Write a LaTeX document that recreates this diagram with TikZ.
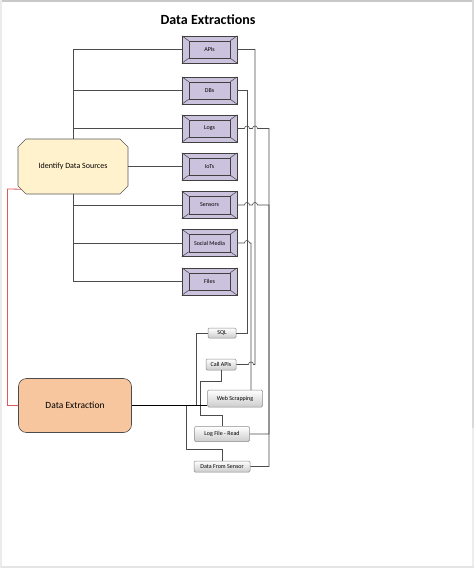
\documentclass[tikz,border=0pt]{standalone}
\usepackage{fontspec}
\setmainfont{Carlito}
\usetikzlibrary{calc}
\definecolor{srcfill}{HTML}{CBC2DD}
\definecolor{idsfill}{HTML}{FFF2CC}
\definecolor{dexfill}{HTML}{F8C69E}
\definecolor{redline}{HTML}{E05A5A}
\definecolor{frame}{HTML}{C8C8C8}
\begin{document}
\begin{tikzpicture}[x=1pt,y=-1pt,
  srcbox/.style={draw=black!75, fill=srcfill, minimum width=55pt, minimum height=27pt, inner sep=0pt, line width=0.5pt, font=\fontsize{6}{7}\selectfont},
  bevel/.style={draw=black!75, line width=0.5pt},
  lowbox/.style={draw=black!45, rounded corners=1.2pt, top color=white, bottom color=black!20, inner sep=0pt, line width=0.5pt, font=\fontsize{6}{7}\selectfont},
  conn/.style={draw=black!70, line width=0.6pt},
  mainline/.style={draw=black, line width=0.9pt},
  jump/.style={radius=2.5}]
\useasboundingbox (0,0) rectangle (474,568);
% frame
\fill[white] (0,0) rectangle (474,568);
\fill[frame] (0,0) rectangle (474,2);
\fill[black!15] (471.5,0) rectangle (474,428);
\fill[black!7] (471.5,428) rectangle (474,568);
\fill[black!10] (0,566) rectangle (474,568);
\fill[black!8] (0,0) rectangle (2,568);
% title
\node[font=\bfseries\fontsize{14}{16}\selectfont] (title) at (208,20) {Data Extractions};
% identify data sources
\draw[draw=black!65, fill=idsfill, line width=0.6pt] (26,139) -- (120,139) -- (128,147) -- (128,186) -- (120,194) -- (26,194) -- (18,186) -- (18,147) -- cycle;
\node[minimum width=110pt, minimum height=55pt, inner sep=0pt, font=\fontsize{8}{9}\selectfont] (ids) at (73,166.5) {Identify Data Sources};
% data extraction
\node[draw=black!70, fill=dexfill, rounded corners=8pt, minimum width=113pt, minimum height=54pt, line width=0.6pt, font=\fontsize{9.5}{11}\selectfont] (dex) at (75,405.5) {Data Extraction};
% source boxes
\foreach \n/\y/\t in {aps/49.5/APIs, dbs/90.5/DBs, logs/128.5/Logs, iots/166.5/IoTs, sens/205/Sensors, soc/243/Social Media, files/281.5/Files}{
  \node[srcbox] (\n) at (209.5,\y) {\t};
  \draw[bevel] ($(\n.north west)+(7,5)$) rectangle ($(\n.south east)+(-7,-5)$);
  \draw[bevel] (\n.north west) -- ++(7,5);
  \draw[bevel] (\n.north east) -- ++(-7,5);
  \draw[bevel] (\n.south west) -- ++(7,-5);
  \draw[bevel] (\n.south east) -- ++(-7,-5);
}
% lower boxes
\node[lowbox, minimum width=28pt, minimum height=10pt] (sql) at (222,333) {SQL};
\node[lowbox, minimum width=30pt, minimum height=11pt] (capi) at (221,364.5) {Call APIs};
\node[lowbox, minimum width=55pt, minimum height=17pt] (wscr) at (235,398.5) {Web Scrapping};
\node[lowbox, minimum width=55pt, minimum height=15pt] (logf) at (222,434) {Log File - Read};
\node[lowbox, minimum width=56pt, minimum height=11pt] (dfs) at (222,466.5) {Data From Sensor};
% left trunk connectors
\draw[conn] (ids.north) |- (aps.west);
\draw[conn] (ids.north) |- (dbs.west);
\draw[conn] (ids.north) |- (logs.west);
\draw[conn] (ids.east) -- (iots.west);
\draw[conn] (ids.south) |- (sens.west);
\draw[conn] (ids.south) |- (soc.west);
\draw[conn] (ids.south) |- (files.west);
% red connector
\draw[draw=redline, line width=0.8pt] ($(ids.south west)+(3,-5)$) -- (7.5,189) |- (dex.west);
% right side connectors
\draw[conn] (aps.east) -- (255,49.5) -- (255,364.5) -- (253.5,364.5) arc[start angle=0, end angle=-180, jump] -- (capi.east);
\draw[conn] (dbs.east) -- (247,90.5) |- (sql.east);
\draw[conn] (logs.east) -- (244.5,128.5) arc[start angle=180, end angle=360, jump] -- (252.5,128.5) arc[start angle=180, end angle=360, jump] -- (269,128.5) |- (logf.east);
\draw[conn] (sens.east) -- (244.5,205) arc[start angle=180, end angle=360, jump] -- (252.5,205) arc[start angle=180, end angle=360, jump] -- (269,205) |- (dfs.east);
\draw[conn] (soc.east) -- (244.5,243) arc[start angle=180, end angle=360, jump] -- (251,243) -- (251,390);
% data extraction connectors
\coordinate (jdfs) at (186.5,405.5);
\coordinate (jsql) at (196.5,405.5);
\coordinate (jmid) at (200,405.5);
\draw[conn] (jsql) |- (sql.west);
\draw[conn] (jmid) -- (200,381) -| (capi.south);
\draw[conn] (jmid) -- (200,415) -| (logf.north);
\draw[conn] (jdfs) -- (186.5,449) -| (dfs.north);
\draw[mainline] (dex.east) -- (dex.east -| wscr.west);
\end{tikzpicture}
\end{document}
